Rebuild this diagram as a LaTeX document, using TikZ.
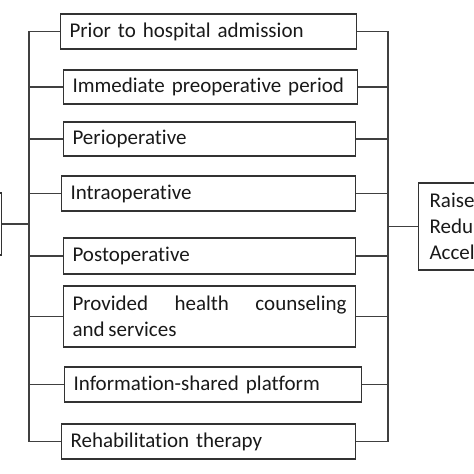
\documentclass[tikz,border=0pt]{standalone}
\usepackage{fontspec}
\setmainfont{Carlito}[Ligatures={NoCommon,NoRare}, WordSpace=0.8]
\usepackage{tikz}

\tikzset{
	stagebox/.style={draw=black!80, line width=1.1pt, anchor=west, align=left,
		inner xsep=9pt, inner ysep=0pt, font=\fontsize{21}{26}\selectfont, text=black!90},
	link/.style={draw=black!75, line width=1.1pt}
}

\begin{document}
\begin{tikzpicture}[x=1pt, y=-1pt]
	\useasboundingbox (0,0) rectangle (474,474);
	
	%Buses
	\coordinate (lbus) at (29,0);
	\coordinate (rbus) at (388,0);
	
	%Stages
	\node[stagebox, minimum width=296pt, minimum height=35pt, text width=278pt] (b1) at (60,31.5) {Prior to hospital admission};
	\node[stagebox, minimum width=294pt, minimum height=34pt, text width=276pt] (b2) at (63,87) {Immediate preoperative period};
	\node[stagebox, minimum width=292pt, minimum height=34pt, text width=274pt] (b3) at (63,139) {Perioperative};
	\node[stagebox, minimum width=294pt, minimum height=35pt, text width=276pt] (b4) at (61,193.5) {Intraoperative};
	\node[stagebox, minimum width=292pt, minimum height=36pt, text width=274pt] (b5) at (63,256) {Postoperative};
	\node[stagebox, minimum width=292pt, minimum height=61pt, text width=274pt, align=justify] (b6) at (63,316.5) {Provided health counseling\linebreak and services};
	\node[stagebox, minimum width=297pt, minimum height=35pt, text width=279pt] (b7) at (64,384.5) {Information-shared platform};
	\node[stagebox, minimum width=294pt, minimum height=35pt, text width=276pt] (b8) at (61,441.5) {Rehabilitation therapy};
	
	%Outer nodes
	\node[stagebox, anchor=east, minimum width=60pt, minimum height=62pt] (src) at (2,224) {};
	\node[stagebox, minimum width=120pt, minimum height=87pt, text width=100pt, inner xsep=11pt] (goal) at (418,226.5) {Raise\\Redu\\Accel};
	
	%Lines
	\draw[link] (b1.west) -| (lbus |- b8.west) -- (b8.west);
	\draw[link] (b1.east) -| (rbus |- b8.east) -- (b8.east);
	\foreach \n in {2,...,7} {
		\draw[link] (b\n.west) -- (b\n.west -| lbus);
		\draw[link] (b\n.east) -- (b\n.east -| rbus);
	}
	\draw[link] (src.east) -- (src.east -| lbus);
	\draw[link] (goal.west) -- (goal.west -| rbus);
\end{tikzpicture}
\end{document}
